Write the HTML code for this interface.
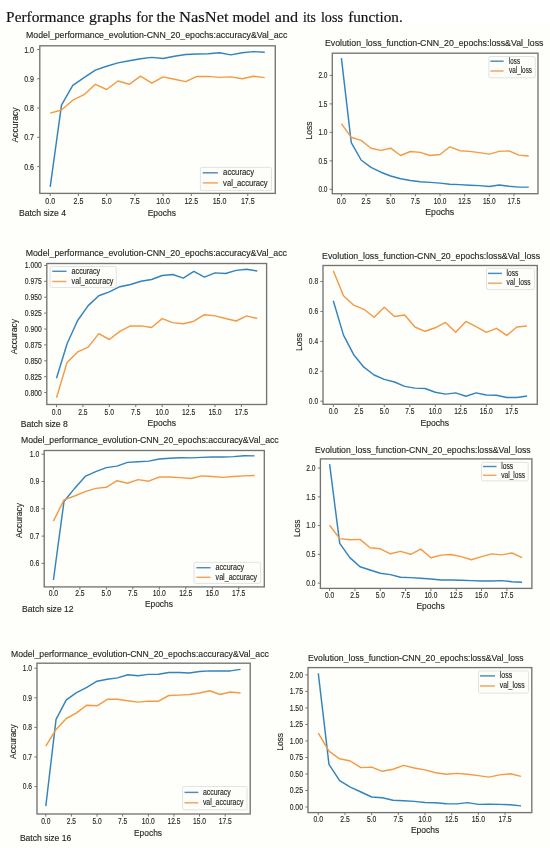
<!DOCTYPE html>
<html><head><meta charset="utf-8"><title>NasNet performance graphs</title>
<style>
html,body{margin:0;padding:0;background:#fff;}
body{width:550px;height:848px;overflow:hidden;position:relative;}
svg{position:absolute;left:0;top:0;will-change:transform;filter:blur(0.3px);}
svg text{font-family:"Liberation Sans",sans-serif;fill:#262626;stroke:#262626;stroke-width:0.14px;}
svg text.serif{font-family:"Liberation Serif",serif;fill:#111;stroke:#111;stroke-width:0.15px;}
</style></head>
<body>
<svg width="550" height="848" viewBox="0 0 550 848">
<rect x="0" y="26" width="550" height="822" fill="#fefefa"/>
<text class="serif" x="6.1" y="21.7" font-size="13.6" textLength="78.4" lengthAdjust="spacingAndGlyphs">Performance</text>
<text class="serif" x="89" y="21.7" font-size="13.6" textLength="42.4" lengthAdjust="spacingAndGlyphs">graphs</text>
<text class="serif" x="136.2" y="21.7" font-size="13.6" textLength="16.8" lengthAdjust="spacingAndGlyphs">for</text>
<text class="serif" x="156.4" y="21.7" font-size="13.6" textLength="19" lengthAdjust="spacingAndGlyphs">the</text>
<text class="serif" x="179.1" y="21.7" font-size="13.6" textLength="49.5" lengthAdjust="spacingAndGlyphs">NasNet</text>
<text class="serif" x="232.5" y="21.7" font-size="13.6" textLength="37.8" lengthAdjust="spacingAndGlyphs">model</text>
<text class="serif" x="274.8" y="21.7" font-size="13.6" textLength="23.3" lengthAdjust="spacingAndGlyphs">and</text>
<text class="serif" x="302.9" y="21.7" font-size="13.6" textLength="12.9" lengthAdjust="spacingAndGlyphs">its</text>
<text class="serif" x="320.9" y="21.7" font-size="13.6" textLength="22.2" lengthAdjust="spacingAndGlyphs">loss</text>
<text class="serif" x="348.2" y="21.7" font-size="13.6" textLength="54.5" lengthAdjust="spacingAndGlyphs">function.</text>
<g>
<polyline points="50.2,186.8 61.49,105.1 72.78,85.4 84.07,77.7 95.36,70.1 106.65,66.2 117.94,62.9 129.23,60.7 140.52,58.7 151.81,57.4 163.1,58.5 174.39,56.3 185.68,54.5 196.97,54 208.26,53.7 219.55,52.8 230.84,54.9 242.13,52.8 253.42,51.6 264.71,52.3" fill="none" stroke="#3383bc" stroke-width="1.45" stroke-linejoin="round" stroke-linecap="butt"/>
<polyline points="50.2,113.1 61.49,110 72.78,100.2 84.07,94.7 95.36,84.3 106.65,89.5 117.94,81 129.23,84.3 140.52,76.2 151.81,83.2 163.1,76.9 174.39,79.3 185.68,81.6 196.97,76.4 208.26,76.4 219.55,77.4 230.84,76.9 242.13,78.8 253.42,76.2 264.71,77.6" fill="none" stroke="#f49a45" stroke-width="1.45" stroke-linejoin="round" stroke-linecap="butt"/>
<rect x="39.8" y="45.8" width="235.5" height="147.6" fill="none" stroke="#747474" stroke-width="1.35"/>
<text x="45.29" y="203.9" font-size="9.07" textLength="9.83" lengthAdjust="spacingAndGlyphs">0.0</text>
<text x="73.51" y="203.9" font-size="9.07" textLength="9.83" lengthAdjust="spacingAndGlyphs">2.5</text>
<text x="101.74" y="203.9" font-size="9.07" textLength="9.83" lengthAdjust="spacingAndGlyphs">5.0</text>
<text x="129.96" y="203.9" font-size="9.07" textLength="9.83" lengthAdjust="spacingAndGlyphs">7.5</text>
<text x="156.22" y="203.9" font-size="9.07" textLength="13.76" lengthAdjust="spacingAndGlyphs">10.0</text>
<text x="184.44" y="203.9" font-size="9.07" textLength="13.76" lengthAdjust="spacingAndGlyphs">12.5</text>
<text x="212.67" y="203.9" font-size="9.07" textLength="13.76" lengthAdjust="spacingAndGlyphs">15.0</text>
<text x="240.89" y="203.9" font-size="9.07" textLength="13.76" lengthAdjust="spacingAndGlyphs">17.5</text>
<text x="24.17" y="52.52" font-size="9.07" textLength="9.83" lengthAdjust="spacingAndGlyphs">1.0</text>
<text x="24.17" y="81.8" font-size="9.07" textLength="9.83" lengthAdjust="spacingAndGlyphs">0.9</text>
<text x="24.17" y="111.07" font-size="9.07" textLength="9.83" lengthAdjust="spacingAndGlyphs">0.8</text>
<text x="24.17" y="140.35" font-size="9.07" textLength="9.83" lengthAdjust="spacingAndGlyphs">0.7</text>
<text x="24.17" y="169.62" font-size="9.07" textLength="9.83" lengthAdjust="spacingAndGlyphs">0.6</text>
<path d="M50.2 193.4v2.6M78.42 193.4v2.6M106.65 193.4v2.6M134.88 193.4v2.6M163.1 193.4v2.6M191.32 193.4v2.6M219.55 193.4v2.6M247.77 193.4v2.6M39.8 49.5h-2.6M39.8 78.77h-2.6M39.8 108.05h-2.6M39.8 137.33h-2.6M39.8 166.6h-2.6" stroke="#747474" stroke-width="1" fill="none"/>
<text x="26" y="37.5" font-size="9.8" textLength="261.3" lengthAdjust="spacingAndGlyphs">Model_performance_evolution-CNN_20_epochs:accuracy&amp;Val_acc</text>
<text x="147.7" y="215.5" font-size="9.3" textLength="28.2" lengthAdjust="spacingAndGlyphs">Epochs</text>
<text transform="translate(17.8 142.6) rotate(-90)" font-size="9.3" textLength="35.2" lengthAdjust="spacingAndGlyphs">Accuracy</text>
<text x="18.9" y="216.4" font-size="9.3" textLength="47.1" lengthAdjust="spacingAndGlyphs">Batch size 4</text>
<rect x="200.4" y="167.4" width="71.1" height="23.2" rx="1.5" fill="#fdfdfa" stroke="#dcdcdc" stroke-width="0.8"/>
<line x1="202.7" y1="172.8" x2="217.9" y2="172.8" stroke="#4a8cbc" stroke-width="1.45"/>
<text x="223.1" y="175" font-size="8.6" textLength="30.9" lengthAdjust="spacingAndGlyphs">accuracy</text>
<line x1="202.7" y1="182.9" x2="217.9" y2="182.9" stroke="#f3a35c" stroke-width="1.45"/>
<text x="223.1" y="186" font-size="8.6" textLength="44.5" lengthAdjust="spacingAndGlyphs">val_accuracy</text>
</g>
<g>
<polyline points="341.4,58.2 351.26,142.7 361.12,160 370.98,167.3 380.84,172.2 390.7,176 400.56,178.7 410.42,180.5 420.28,181.8 430.14,182.4 440,183.1 449.86,184.2 459.72,184.6 469.58,185.2 479.44,185.6 489.3,186.5 499.16,185 509.02,186.3 518.88,187.1 528.74,187.1" fill="none" stroke="#3383bc" stroke-width="1.45" stroke-linejoin="round" stroke-linecap="butt"/>
<polyline points="341.4,123.6 351.26,137.3 361.12,140.4 370.98,148.2 380.84,150.4 390.7,148.2 400.56,155.5 410.42,151.5 420.28,152.4 430.14,155.5 440,154.5 449.86,146.8 459.72,150.7 469.58,151.4 479.44,152.6 489.3,154.1 499.16,151.4 509.02,150.9 518.88,155.1 528.74,156" fill="none" stroke="#f49a45" stroke-width="1.45" stroke-linejoin="round" stroke-linecap="butt"/>
<rect x="332.3" y="53.2" width="205.7" height="140.5" fill="none" stroke="#747474" stroke-width="1.35"/>
<text x="336.87" y="203.5" font-size="8.36" textLength="9.06" lengthAdjust="spacingAndGlyphs">0.0</text>
<text x="361.52" y="203.5" font-size="8.36" textLength="9.06" lengthAdjust="spacingAndGlyphs">2.5</text>
<text x="386.17" y="203.5" font-size="8.36" textLength="9.06" lengthAdjust="spacingAndGlyphs">5.0</text>
<text x="410.82" y="203.5" font-size="8.36" textLength="9.06" lengthAdjust="spacingAndGlyphs">7.5</text>
<text x="433.66" y="203.5" font-size="8.36" textLength="12.69" lengthAdjust="spacingAndGlyphs">10.0</text>
<text x="458.31" y="203.5" font-size="8.36" textLength="12.69" lengthAdjust="spacingAndGlyphs">12.5</text>
<text x="482.96" y="203.5" font-size="8.36" textLength="12.69" lengthAdjust="spacingAndGlyphs">15.0</text>
<text x="507.61" y="203.5" font-size="8.36" textLength="12.69" lengthAdjust="spacingAndGlyphs">17.5</text>
<text x="318.43" y="192.09" font-size="8.36" textLength="9.06" lengthAdjust="spacingAndGlyphs">0.0</text>
<text x="318.43" y="163.61" font-size="8.36" textLength="9.06" lengthAdjust="spacingAndGlyphs">0.5</text>
<text x="318.43" y="135.14" font-size="8.36" textLength="9.06" lengthAdjust="spacingAndGlyphs">1.0</text>
<text x="318.43" y="106.66" font-size="8.36" textLength="9.06" lengthAdjust="spacingAndGlyphs">1.5</text>
<text x="318.43" y="78.19" font-size="8.36" textLength="9.06" lengthAdjust="spacingAndGlyphs">2.0</text>
<path d="M341.4 193.7v2.6M366.05 193.7v2.6M390.7 193.7v2.6M415.35 193.7v2.6M440 193.7v2.6M464.65 193.7v2.6M489.3 193.7v2.6M513.95 193.7v2.6M332.3 189.3h-2.6M332.3 160.83h-2.6M332.3 132.35h-2.6M332.3 103.88h-2.6M332.3 75.4h-2.6" stroke="#747474" stroke-width="1" fill="none"/>
<text x="324.9" y="46" font-size="9.8" textLength="218.6" lengthAdjust="spacingAndGlyphs">Evolution_loss_function-CNN_20_epochs:loss&amp;Val_loss</text>
<text x="425.3" y="215.2" font-size="9.3" textLength="28.9" lengthAdjust="spacingAndGlyphs">Epochs</text>
<text transform="translate(312.3 139.7) rotate(-90)" font-size="9.3" textLength="18.4" lengthAdjust="spacingAndGlyphs">Loss</text>
<rect x="488.9" y="56.5" width="46.4" height="21.3" rx="1.5" fill="#fdfdfa" stroke="#dcdcdc" stroke-width="0.8"/>
<line x1="490.4" y1="61.2" x2="503.6" y2="61.2" stroke="#4a8cbc" stroke-width="1.45"/>
<text x="509" y="63.6" font-size="8.6" textLength="11" lengthAdjust="spacingAndGlyphs">loss</text>
<line x1="490.4" y1="71" x2="503.6" y2="71" stroke="#f3a35c" stroke-width="1.45"/>
<text x="509" y="73" font-size="8.6" textLength="23" lengthAdjust="spacingAndGlyphs">val_loss</text>
</g>
<g>
<polyline points="56.5,378.3 67.07,343.8 77.63,320.5 88.2,305.6 98.76,295.8 109.33,291.9 119.9,286.7 130.46,284.5 141.03,281.2 151.59,279.5 162.16,275.5 172.73,274.5 183.29,278.1 193.86,271.4 204.42,277.1 214.99,272.9 225.56,273.5 236.12,270.4 246.69,269.3 257.25,271" fill="none" stroke="#3383bc" stroke-width="1.45" stroke-linejoin="round" stroke-linecap="butt"/>
<polyline points="56.5,397.7 67.07,362.4 77.63,351.9 88.2,347.1 98.76,333.6 109.33,339.5 119.9,331.4 130.46,325.9 141.03,325.9 151.59,327.5 162.16,318.6 172.73,322.6 183.29,323.7 193.86,321.2 204.42,314.7 214.99,315.9 225.56,318.5 236.12,321 246.69,315.9 257.25,318.5" fill="none" stroke="#f49a45" stroke-width="1.45" stroke-linejoin="round" stroke-linecap="butt"/>
<rect x="46.8" y="263.5" width="219.8" height="141" fill="none" stroke="#747474" stroke-width="1.35"/>
<text x="51.78" y="415" font-size="8.71" textLength="9.44" lengthAdjust="spacingAndGlyphs">0.0</text>
<text x="78.19" y="415" font-size="8.71" textLength="9.44" lengthAdjust="spacingAndGlyphs">2.5</text>
<text x="104.61" y="415" font-size="8.71" textLength="9.44" lengthAdjust="spacingAndGlyphs">5.0</text>
<text x="131.02" y="415" font-size="8.71" textLength="9.44" lengthAdjust="spacingAndGlyphs">7.5</text>
<text x="155.55" y="415" font-size="8.71" textLength="13.22" lengthAdjust="spacingAndGlyphs">10.0</text>
<text x="181.97" y="415" font-size="8.71" textLength="13.22" lengthAdjust="spacingAndGlyphs">12.5</text>
<text x="208.38" y="415" font-size="8.71" textLength="13.22" lengthAdjust="spacingAndGlyphs">15.0</text>
<text x="234.8" y="415" font-size="8.71" textLength="13.22" lengthAdjust="spacingAndGlyphs">17.5</text>
<text x="24.8" y="268.3" font-size="8.71" textLength="16.99" lengthAdjust="spacingAndGlyphs">1.000</text>
<text x="24.8" y="284.2" font-size="8.71" textLength="16.99" lengthAdjust="spacingAndGlyphs">0.975</text>
<text x="24.8" y="300.1" font-size="8.71" textLength="16.99" lengthAdjust="spacingAndGlyphs">0.950</text>
<text x="24.8" y="316" font-size="8.71" textLength="16.99" lengthAdjust="spacingAndGlyphs">0.925</text>
<text x="24.8" y="331.9" font-size="8.71" textLength="16.99" lengthAdjust="spacingAndGlyphs">0.900</text>
<text x="24.8" y="347.8" font-size="8.71" textLength="16.99" lengthAdjust="spacingAndGlyphs">0.875</text>
<text x="24.8" y="363.7" font-size="8.71" textLength="16.99" lengthAdjust="spacingAndGlyphs">0.850</text>
<text x="24.8" y="379.6" font-size="8.71" textLength="16.99" lengthAdjust="spacingAndGlyphs">0.825</text>
<text x="24.8" y="395.5" font-size="8.71" textLength="16.99" lengthAdjust="spacingAndGlyphs">0.800</text>
<path d="M56.5 404.5v2.6M82.92 404.5v2.6M109.33 404.5v2.6M135.75 404.5v2.6M162.16 404.5v2.6M188.58 404.5v2.6M214.99 404.5v2.6M241.41 404.5v2.6M46.8 265.4h-2.6M46.8 281.3h-2.6M46.8 297.2h-2.6M46.8 313.1h-2.6M46.8 329h-2.6M46.8 344.9h-2.6M46.8 360.8h-2.6M46.8 376.7h-2.6M46.8 392.6h-2.6" stroke="#747474" stroke-width="1" fill="none"/>
<text x="25.7" y="255.9" font-size="9.8" textLength="261.3" lengthAdjust="spacingAndGlyphs">Model_performance_evolution-CNN_20_epochs:accuracy&amp;Val_acc</text>
<text x="147.6" y="426.3" font-size="9.3" textLength="28.4" lengthAdjust="spacingAndGlyphs">Epochs</text>
<text transform="translate(17.3 354.2) rotate(-90)" font-size="9.3" textLength="35.2" lengthAdjust="spacingAndGlyphs">Accuracy</text>
<text x="20.8" y="426.9" font-size="9.3" textLength="47.1" lengthAdjust="spacingAndGlyphs">Batch size 8</text>
<rect x="50.1" y="266.5" width="66.2" height="21.1" rx="1.5" fill="#fdfdfa" stroke="#dcdcdc" stroke-width="0.8"/>
<line x1="52.3" y1="271.3" x2="66.5" y2="271.3" stroke="#4a8cbc" stroke-width="1.45"/>
<text x="71.6" y="273.9" font-size="8.6" textLength="28.6" lengthAdjust="spacingAndGlyphs">accuracy</text>
<line x1="52.3" y1="281.5" x2="66.5" y2="281.5" stroke="#f3a35c" stroke-width="1.45"/>
<text x="71.6" y="283.9" font-size="8.6" textLength="41.7" lengthAdjust="spacingAndGlyphs">val_accuracy</text>
</g>
<g>
<polyline points="333.3,300.8 343.5,335.1 353.7,354.7 363.9,367.2 374.1,375 384.3,379.4 394.5,382 404.7,386.4 414.9,388.1 425.1,388.5 435.3,392.2 445.5,394.1 455.7,392.9 465.9,396.2 476.1,392.9 486.3,395 496.5,395.2 506.7,397.5 516.9,397.5 527.1,396" fill="none" stroke="#3383bc" stroke-width="1.45" stroke-linejoin="round" stroke-linecap="butt"/>
<polyline points="333.3,270.7 343.5,295.8 353.7,305.2 363.9,309.3 374.1,317.2 384.3,307.2 394.5,316.5 404.7,315 414.9,327 425.1,331.3 435.3,327.8 445.5,322.4 455.7,332.2 465.9,321.4 476.1,326.6 486.3,332.4 496.5,328.3 506.7,335.4 516.9,327 527.1,326" fill="none" stroke="#f49a45" stroke-width="1.45" stroke-linejoin="round" stroke-linecap="butt"/>
<rect x="323" y="265.5" width="214.3" height="138.8" fill="none" stroke="#747474" stroke-width="1.35"/>
<text x="328.68" y="413.7" font-size="8.53" textLength="9.24" lengthAdjust="spacingAndGlyphs">0.0</text>
<text x="354.18" y="413.7" font-size="8.53" textLength="9.24" lengthAdjust="spacingAndGlyphs">2.5</text>
<text x="379.68" y="413.7" font-size="8.53" textLength="9.24" lengthAdjust="spacingAndGlyphs">5.0</text>
<text x="405.18" y="413.7" font-size="8.53" textLength="9.24" lengthAdjust="spacingAndGlyphs">7.5</text>
<text x="428.83" y="413.7" font-size="8.53" textLength="12.94" lengthAdjust="spacingAndGlyphs">10.0</text>
<text x="454.33" y="413.7" font-size="8.53" textLength="12.94" lengthAdjust="spacingAndGlyphs">12.5</text>
<text x="479.83" y="413.7" font-size="8.53" textLength="12.94" lengthAdjust="spacingAndGlyphs">15.0</text>
<text x="505.33" y="413.7" font-size="8.53" textLength="12.94" lengthAdjust="spacingAndGlyphs">17.5</text>
<text x="308.85" y="404.04" font-size="8.53" textLength="9.24" lengthAdjust="spacingAndGlyphs">0.0</text>
<text x="308.85" y="374.12" font-size="8.53" textLength="9.24" lengthAdjust="spacingAndGlyphs">0.2</text>
<text x="308.85" y="344.2" font-size="8.53" textLength="9.24" lengthAdjust="spacingAndGlyphs">0.4</text>
<text x="308.85" y="314.28" font-size="8.53" textLength="9.24" lengthAdjust="spacingAndGlyphs">0.6</text>
<text x="308.85" y="284.36" font-size="8.53" textLength="9.24" lengthAdjust="spacingAndGlyphs">0.8</text>
<path d="M333.3 404.3v2.6M358.8 404.3v2.6M384.3 404.3v2.6M409.8 404.3v2.6M435.3 404.3v2.6M460.8 404.3v2.6M486.3 404.3v2.6M511.8 404.3v2.6M323 401.2h-2.6M323 371.28h-2.6M323 341.36h-2.6M323 311.44h-2.6M323 281.52h-2.6" stroke="#747474" stroke-width="1" fill="none"/>
<text x="322.1" y="258.6" font-size="9.8" textLength="218" lengthAdjust="spacingAndGlyphs">Evolution_loss_function-CNN_20_epochs:loss&amp;Val_loss</text>
<text x="420.4" y="425.7" font-size="9.3" textLength="28.7" lengthAdjust="spacingAndGlyphs">Epochs</text>
<text transform="translate(302.1 350.9) rotate(-90)" font-size="9.3" textLength="18" lengthAdjust="spacingAndGlyphs">Loss</text>
<rect x="486.5" y="268.3" width="48.1" height="21.3" rx="1.5" fill="#fdfdfa" stroke="#dcdcdc" stroke-width="0.8"/>
<line x1="488" y1="273.4" x2="501.9" y2="273.4" stroke="#4a8cbc" stroke-width="1.45"/>
<text x="506.6" y="275.8" font-size="8.6" textLength="11.8" lengthAdjust="spacingAndGlyphs">loss</text>
<line x1="488" y1="283.2" x2="501.9" y2="283.2" stroke="#f3a35c" stroke-width="1.45"/>
<text x="506.6" y="285.2" font-size="8.6" textLength="24" lengthAdjust="spacingAndGlyphs">val_loss</text>
</g>
<g>
<polyline points="53.4,580 63.99,501.5 74.58,488.4 85.17,476.4 95.76,471.6 106.35,467.6 116.94,466.1 127.53,462.4 138.12,461.7 148.71,461.1 159.3,459 169.89,458.3 180.48,457.7 191.07,457.9 201.66,457.4 212.25,457 222.84,457 233.43,456.6 244.02,455.7 254.61,455.9" fill="none" stroke="#3383bc" stroke-width="1.45" stroke-linejoin="round" stroke-linecap="butt"/>
<polyline points="53.4,521.1 63.99,499.9 74.58,496 85.17,491.6 95.76,488.4 106.35,487.3 116.94,480.7 127.53,483.3 138.12,479.6 148.71,481.2 159.3,477 169.89,477 180.48,477.6 191.07,478.5 201.66,475.9 212.25,476.5 222.84,477.4 233.43,476.5 244.02,475.9 254.61,475.5" fill="none" stroke="#f49a45" stroke-width="1.45" stroke-linejoin="round" stroke-linecap="butt"/>
<rect x="44.2" y="450.5" width="220.1" height="136.4" fill="none" stroke="#747474" stroke-width="1.35"/>
<text x="48.67" y="596" font-size="8.72" textLength="9.45" lengthAdjust="spacingAndGlyphs">0.0</text>
<text x="75.15" y="596" font-size="8.72" textLength="9.45" lengthAdjust="spacingAndGlyphs">2.5</text>
<text x="101.62" y="596" font-size="8.72" textLength="9.45" lengthAdjust="spacingAndGlyphs">5.0</text>
<text x="128.1" y="596" font-size="8.72" textLength="9.45" lengthAdjust="spacingAndGlyphs">7.5</text>
<text x="152.68" y="596" font-size="8.72" textLength="13.24" lengthAdjust="spacingAndGlyphs">10.0</text>
<text x="179.16" y="596" font-size="8.72" textLength="13.24" lengthAdjust="spacingAndGlyphs">12.5</text>
<text x="205.63" y="596" font-size="8.72" textLength="13.24" lengthAdjust="spacingAndGlyphs">15.0</text>
<text x="232.11" y="596" font-size="8.72" textLength="13.24" lengthAdjust="spacingAndGlyphs">17.5</text>
<text x="29.73" y="457.11" font-size="8.72" textLength="9.45" lengthAdjust="spacingAndGlyphs">1.0</text>
<text x="29.73" y="484.41" font-size="8.72" textLength="9.45" lengthAdjust="spacingAndGlyphs">0.9</text>
<text x="29.73" y="511.71" font-size="8.72" textLength="9.45" lengthAdjust="spacingAndGlyphs">0.8</text>
<text x="29.73" y="539.01" font-size="8.72" textLength="9.45" lengthAdjust="spacingAndGlyphs">0.7</text>
<text x="29.73" y="566.31" font-size="8.72" textLength="9.45" lengthAdjust="spacingAndGlyphs">0.6</text>
<path d="M53.4 586.9v2.6M79.88 586.9v2.6M106.35 586.9v2.6M132.82 586.9v2.6M159.3 586.9v2.6M185.78 586.9v2.6M212.25 586.9v2.6M238.72 586.9v2.6M44.2 454.2h-2.6M44.2 481.5h-2.6M44.2 508.8h-2.6M44.2 536.1h-2.6M44.2 563.4h-2.6" stroke="#747474" stroke-width="1" fill="none"/>
<text x="21" y="443.2" font-size="9.8" textLength="257.7" lengthAdjust="spacingAndGlyphs">Model_performance_evolution-CNN_20_epochs:accuracy&amp;Val_acc</text>
<text x="144.9" y="606.8" font-size="9.3" textLength="28" lengthAdjust="spacingAndGlyphs">Epochs</text>
<text transform="translate(21.8 537.9) rotate(-90)" font-size="9.3" textLength="34.8" lengthAdjust="spacingAndGlyphs">Accuracy</text>
<text x="22.1" y="612" font-size="9.3" textLength="51.5" lengthAdjust="spacingAndGlyphs">Batch size 12</text>
<rect x="194.1" y="562.3" width="66.6" height="21.1" rx="1.5" fill="#fdfdfa" stroke="#dcdcdc" stroke-width="0.8"/>
<line x1="196.4" y1="567.7" x2="210.5" y2="567.7" stroke="#4a8cbc" stroke-width="1.45"/>
<text x="215.6" y="570" font-size="8.6" textLength="28.4" lengthAdjust="spacingAndGlyphs">accuracy</text>
<line x1="196.4" y1="577.3" x2="210.5" y2="577.3" stroke="#f3a35c" stroke-width="1.45"/>
<text x="215.6" y="579.7" font-size="8.6" textLength="41.5" lengthAdjust="spacingAndGlyphs">val_accuracy</text>
</g>
<g>
<polyline points="329.6,464.2 339.73,543.4 349.86,557.6 359.99,566.7 370.12,570 380.25,573.3 390.38,574.6 400.51,577.2 410.64,577.6 420.77,578.2 430.9,579 441.03,580 451.16,580 461.29,580.2 471.42,580.6 481.55,581 491.68,581 501.81,580.6 511.94,581.7 522.07,582.3" fill="none" stroke="#3383bc" stroke-width="1.45" stroke-linejoin="round" stroke-linecap="butt"/>
<polyline points="329.6,525.3 339.73,538.6 349.86,539.7 359.99,539.4 370.12,547.7 380.25,548.8 390.38,553.8 400.51,551.4 410.64,554.3 420.77,549.1 430.9,557.8 441.03,555.1 451.16,554.5 461.29,556.6 471.42,559.7 481.55,556.6 491.68,553.9 501.81,554.9 511.94,553 522.07,557.6" fill="none" stroke="#f49a45" stroke-width="1.45" stroke-linejoin="round" stroke-linecap="butt"/>
<rect x="320.4" y="458.9" width="211.5" height="129.5" fill="none" stroke="#747474" stroke-width="1.35"/>
<text x="325" y="597.6" font-size="8.49" textLength="9.21" lengthAdjust="spacingAndGlyphs">0.0</text>
<text x="350.32" y="597.6" font-size="8.49" textLength="9.21" lengthAdjust="spacingAndGlyphs">2.5</text>
<text x="375.65" y="597.6" font-size="8.49" textLength="9.21" lengthAdjust="spacingAndGlyphs">5.0</text>
<text x="400.97" y="597.6" font-size="8.49" textLength="9.21" lengthAdjust="spacingAndGlyphs">7.5</text>
<text x="424.45" y="597.6" font-size="8.49" textLength="12.89" lengthAdjust="spacingAndGlyphs">10.0</text>
<text x="449.78" y="597.6" font-size="8.49" textLength="12.89" lengthAdjust="spacingAndGlyphs">12.5</text>
<text x="475.1" y="597.6" font-size="8.49" textLength="12.89" lengthAdjust="spacingAndGlyphs">15.0</text>
<text x="500.43" y="597.6" font-size="8.49" textLength="12.89" lengthAdjust="spacingAndGlyphs">17.5</text>
<text x="306.31" y="585.93" font-size="8.49" textLength="9.21" lengthAdjust="spacingAndGlyphs">0.0</text>
<text x="306.31" y="557.18" font-size="8.49" textLength="9.21" lengthAdjust="spacingAndGlyphs">0.5</text>
<text x="306.31" y="528.43" font-size="8.49" textLength="9.21" lengthAdjust="spacingAndGlyphs">1.0</text>
<text x="306.31" y="499.68" font-size="8.49" textLength="9.21" lengthAdjust="spacingAndGlyphs">1.5</text>
<text x="306.31" y="470.93" font-size="8.49" textLength="9.21" lengthAdjust="spacingAndGlyphs">2.0</text>
<path d="M329.6 588.4v2.6M354.93 588.4v2.6M380.25 588.4v2.6M405.58 588.4v2.6M430.9 588.4v2.6M456.23 588.4v2.6M481.55 588.4v2.6M506.88 588.4v2.6M320.4 583.1h-2.6M320.4 554.35h-2.6M320.4 525.6h-2.6M320.4 496.85h-2.6M320.4 468.1h-2.6" stroke="#747474" stroke-width="1" fill="none"/>
<text x="315.1" y="452.5" font-size="9.8" textLength="215.6" lengthAdjust="spacingAndGlyphs">Evolution_loss_function-CNN_20_epochs:loss&amp;Val_loss</text>
<text x="416.4" y="608.8" font-size="9.3" textLength="28.3" lengthAdjust="spacingAndGlyphs">Epochs</text>
<text transform="translate(299.8 537) rotate(-90)" font-size="9.3" textLength="17.5" lengthAdjust="spacingAndGlyphs">Loss</text>
<rect x="481.5" y="462.3" width="46.7" height="18.5" rx="1.5" fill="#fdfdfa" stroke="#dcdcdc" stroke-width="0.8"/>
<line x1="483" y1="466.5" x2="496.5" y2="466.5" stroke="#4a8cbc" stroke-width="1.45"/>
<text x="501.2" y="468.8" font-size="8.6" textLength="11.9" lengthAdjust="spacingAndGlyphs">loss</text>
<line x1="483" y1="475.3" x2="496.5" y2="475.3" stroke="#f3a35c" stroke-width="1.45"/>
<text x="501.2" y="477.6" font-size="8.6" textLength="24" lengthAdjust="spacingAndGlyphs">val_loss</text>
</g>
<g>
<polyline points="45.8,806.2 56.05,719.3 66.3,699.9 76.55,692.7 86.8,687.3 97.05,681.2 107.3,679.2 117.55,677.9 127.8,674.8 138.05,675.7 148.3,674.4 158.55,674.2 168.8,672.5 179.05,672.5 189.3,673 199.55,671.5 209.8,670.9 220.05,670.9 230.3,670.9 240.55,669.4" fill="none" stroke="#3383bc" stroke-width="1.45" stroke-linejoin="round" stroke-linecap="butt"/>
<polyline points="45.8,746.2 56.05,729.4 66.3,718.5 76.55,712.8 86.8,705.2 97.05,705.8 107.3,699.3 117.55,699.3 127.8,700.8 138.05,702.1 148.3,701.1 158.55,701.2 168.8,695.5 179.05,695.1 189.3,694.5 199.55,693 209.8,690.7 220.05,694.5 230.3,692 240.55,693" fill="none" stroke="#f49a45" stroke-width="1.45" stroke-linejoin="round" stroke-linecap="butt"/>
<rect x="37" y="663.2" width="213.2" height="150.8" fill="none" stroke="#747474" stroke-width="1.35"/>
<text x="41.16" y="823.9" font-size="8.55" textLength="9.27" lengthAdjust="spacingAndGlyphs">0.0</text>
<text x="66.79" y="823.9" font-size="8.55" textLength="9.27" lengthAdjust="spacingAndGlyphs">2.5</text>
<text x="92.41" y="823.9" font-size="8.55" textLength="9.27" lengthAdjust="spacingAndGlyphs">5.0</text>
<text x="118.04" y="823.9" font-size="8.55" textLength="9.27" lengthAdjust="spacingAndGlyphs">7.5</text>
<text x="141.81" y="823.9" font-size="8.55" textLength="12.98" lengthAdjust="spacingAndGlyphs">10.0</text>
<text x="167.43" y="823.9" font-size="8.55" textLength="12.98" lengthAdjust="spacingAndGlyphs">12.5</text>
<text x="193.06" y="823.9" font-size="8.55" textLength="12.98" lengthAdjust="spacingAndGlyphs">15.0</text>
<text x="218.68" y="823.9" font-size="8.55" textLength="12.98" lengthAdjust="spacingAndGlyphs">17.5</text>
<text x="22.81" y="671.05" font-size="8.55" textLength="9.27" lengthAdjust="spacingAndGlyphs">1.0</text>
<text x="22.81" y="700.65" font-size="8.55" textLength="9.27" lengthAdjust="spacingAndGlyphs">0.9</text>
<text x="22.81" y="730.25" font-size="8.55" textLength="9.27" lengthAdjust="spacingAndGlyphs">0.8</text>
<text x="22.81" y="759.85" font-size="8.55" textLength="9.27" lengthAdjust="spacingAndGlyphs">0.7</text>
<text x="22.81" y="789.45" font-size="8.55" textLength="9.27" lengthAdjust="spacingAndGlyphs">0.6</text>
<path d="M45.8 814v2.6M71.42 814v2.6M97.05 814v2.6M122.67 814v2.6M148.3 814v2.6M173.93 814v2.6M199.55 814v2.6M225.18 814v2.6M37 668.2h-2.6M37 697.8h-2.6M37 727.4h-2.6M37 757h-2.6M37 786.6h-2.6" stroke="#747474" stroke-width="1" fill="none"/>
<text x="11" y="656.8" font-size="9.8" textLength="257.8" lengthAdjust="spacingAndGlyphs">Model_performance_evolution-CNN_20_epochs:accuracy&amp;Val_acc</text>
<text x="134" y="835.6" font-size="9.3" textLength="28" lengthAdjust="spacingAndGlyphs">Epochs</text>
<text transform="translate(15.6 758.9) rotate(-90)" font-size="9.3" textLength="34.7" lengthAdjust="spacingAndGlyphs">Accuracy</text>
<text x="19.9" y="840.5" font-size="9.3" textLength="51.4" lengthAdjust="spacingAndGlyphs">Batch size 16</text>
<rect x="182.6" y="786.5" width="64.4" height="23.3" rx="1.5" fill="#fdfdfa" stroke="#dcdcdc" stroke-width="0.8"/>
<line x1="184.5" y1="792.4" x2="198.3" y2="792.4" stroke="#4a8cbc" stroke-width="1.45"/>
<text x="202.9" y="794.7" font-size="8.6" textLength="27.8" lengthAdjust="spacingAndGlyphs">accuracy</text>
<line x1="184.5" y1="802.8" x2="198.3" y2="802.8" stroke="#f3a35c" stroke-width="1.45"/>
<text x="202.9" y="805.3" font-size="8.6" textLength="40.5" lengthAdjust="spacingAndGlyphs">val_accuracy</text>
</g>
<g>
<polyline points="318.3,673.3 328.97,764.3 339.64,780.6 350.31,787.2 360.98,792 371.65,797 382.32,797.7 392.99,800.3 403.66,800.7 414.33,801.4 425,802.5 435.67,802.8 446.34,803.7 457.01,803.9 467.68,802.6 478.35,804.4 489.02,804.2 499.69,804.4 510.36,804.8 521.03,805.9" fill="none" stroke="#3383bc" stroke-width="1.45" stroke-linejoin="round" stroke-linecap="butt"/>
<polyline points="318.3,733.1 328.97,751.2 339.64,758.8 350.31,761 360.98,767.6 371.65,767.1 382.32,771.3 392.99,769.3 403.66,765.4 414.33,768 425,769.9 435.67,772.7 446.34,774.3 457.01,773.4 467.68,774.3 478.35,775.6 489.02,777.1 499.69,774.9 510.36,773.8 521.03,776.4" fill="none" stroke="#f49a45" stroke-width="1.45" stroke-linejoin="round" stroke-linecap="butt"/>
<rect x="308" y="667.6" width="223.8" height="145" fill="none" stroke="#747474" stroke-width="1.35"/>
<text x="313.55" y="822" font-size="8.76" textLength="9.5" lengthAdjust="spacingAndGlyphs">0.0</text>
<text x="340.23" y="822" font-size="8.76" textLength="9.5" lengthAdjust="spacingAndGlyphs">2.5</text>
<text x="366.9" y="822" font-size="8.76" textLength="9.5" lengthAdjust="spacingAndGlyphs">5.0</text>
<text x="393.58" y="822" font-size="8.76" textLength="9.5" lengthAdjust="spacingAndGlyphs">7.5</text>
<text x="418.35" y="822" font-size="8.76" textLength="13.3" lengthAdjust="spacingAndGlyphs">10.0</text>
<text x="445.03" y="822" font-size="8.76" textLength="13.3" lengthAdjust="spacingAndGlyphs">12.5</text>
<text x="471.7" y="822" font-size="8.76" textLength="13.3" lengthAdjust="spacingAndGlyphs">15.0</text>
<text x="498.38" y="822" font-size="8.76" textLength="13.3" lengthAdjust="spacingAndGlyphs">17.5</text>
<text x="289.67" y="809.92" font-size="8.76" textLength="13.3" lengthAdjust="spacingAndGlyphs">0.00</text>
<text x="289.67" y="793.41" font-size="8.76" textLength="13.3" lengthAdjust="spacingAndGlyphs">0.25</text>
<text x="289.67" y="776.89" font-size="8.76" textLength="13.3" lengthAdjust="spacingAndGlyphs">0.50</text>
<text x="289.67" y="760.38" font-size="8.76" textLength="13.3" lengthAdjust="spacingAndGlyphs">0.75</text>
<text x="289.67" y="743.87" font-size="8.76" textLength="13.3" lengthAdjust="spacingAndGlyphs">1.00</text>
<text x="289.67" y="727.36" font-size="8.76" textLength="13.3" lengthAdjust="spacingAndGlyphs">1.25</text>
<text x="289.67" y="710.84" font-size="8.76" textLength="13.3" lengthAdjust="spacingAndGlyphs">1.50</text>
<text x="289.67" y="694.33" font-size="8.76" textLength="13.3" lengthAdjust="spacingAndGlyphs">1.75</text>
<text x="289.67" y="677.82" font-size="8.76" textLength="13.3" lengthAdjust="spacingAndGlyphs">2.00</text>
<path d="M318.3 812.6v2.6M344.98 812.6v2.6M371.65 812.6v2.6M398.33 812.6v2.6M425 812.6v2.6M451.68 812.6v2.6M478.35 812.6v2.6M505.02 812.6v2.6M308 807h-2.6M308 790.49h-2.6M308 773.98h-2.6M308 757.46h-2.6M308 740.95h-2.6M308 724.44h-2.6M308 707.92h-2.6M308 691.41h-2.6M308 674.9h-2.6" stroke="#747474" stroke-width="1" fill="none"/>
<text x="308" y="660.6" font-size="9.8" textLength="215.7" lengthAdjust="spacingAndGlyphs">Evolution_loss_function-CNN_20_epochs:loss&amp;Val_loss</text>
<text x="410.9" y="833.1" font-size="9.3" textLength="28.4" lengthAdjust="spacingAndGlyphs">Epochs</text>
<text transform="translate(282.7 750.8) rotate(-90)" font-size="9.3" textLength="17.8" lengthAdjust="spacingAndGlyphs">Loss</text>
<rect x="478.5" y="670.9" width="50" height="22.2" rx="1.5" fill="#fdfdfa" stroke="#dcdcdc" stroke-width="0.8"/>
<line x1="480" y1="675.9" x2="495" y2="675.9" stroke="#4a8cbc" stroke-width="1.45"/>
<text x="499.8" y="678.3" font-size="8.6" textLength="12.4" lengthAdjust="spacingAndGlyphs">loss</text>
<line x1="480" y1="686" x2="495" y2="686" stroke="#f3a35c" stroke-width="1.45"/>
<text x="499.8" y="688.2" font-size="8.6" textLength="24.8" lengthAdjust="spacingAndGlyphs">val_loss</text>
</g>
</svg>
</body></html>
